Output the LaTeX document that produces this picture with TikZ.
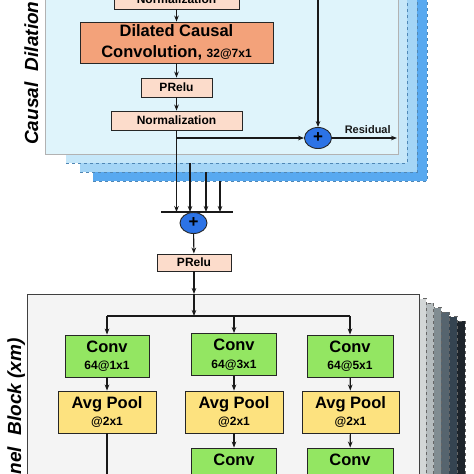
\documentclass[tikz,border=0pt]{standalone}
\usepackage{fontspec}
\setmainfont{Liberation Sans}
\usetikzlibrary{arrows,arrows.meta,shapes.geometric}
\definecolor{panelblue}{HTML}{DFF4FB}
\definecolor{layerA}{HTML}{C6E7F9}
\definecolor{layerB}{HTML}{A4D5F6}
\definecolor{layerC}{HTML}{58A9F0}
\definecolor{layerline}{HTML}{4F87B5}
\definecolor{normpink}{HTML}{FCDCCB}
\definecolor{dilorange}{HTML}{F3A27A}
\definecolor{plusblue}{HTML}{2C73E6}
\definecolor{convgreen}{HTML}{93E662}
\definecolor{poolyellow}{HTML}{FDE27F}
\definecolor{panelgray}{HTML}{F4F4F4}
\definecolor{grayA}{HTML}{D3D7D7}
\definecolor{grayB}{HTML}{B5BCBE}
\definecolor{grayC}{HTML}{808C91}
\definecolor{grayD}{HTML}{56646E}
\definecolor{grayE}{HTML}{354451}
\definecolor{grayF}{HTML}{1D242B}
\tikzset{>={Stealth[length=6pt,width=4.6pt]},
	box/.style={draw=black!85, line width=0.9pt, inner sep=0pt, align=center},
	normbox/.style={box, fill=normpink, minimum height=19pt,
		font=\bfseries\fontsize{12}{14}\selectfont},
	convbox/.style={box, fill=convgreen, minimum width=85pt, minimum height=42pt,
		font=\bfseries\fontsize{16.5}{17.5}\selectfont},
	poolbox/.style={box, fill=poolyellow, minimum width=98pt, minimum height=42pt,
		font=\bfseries\fontsize{16.5}{17}\selectfont},
	summ/.style={ellipse, draw=black!85, fill=plusblue, line width=0.9pt,
		minimum width=27pt, minimum height=21pt, inner sep=0pt,
		font=\bfseries\fontsize{17}{17}\selectfont},
	flow/.style={->, line width=1.1pt, black!90},
	plain/.style={line width=1.1pt, black!90}}
\tikzstyle{sidelabel}=[rotate=90, inner sep=0pt,
font=\bfseries\itshape\fontsize{19}{19}\selectfont]
\newcommand{\spec}[1]{{\fontsize{12}{14}\selectfont #1}}

\begin{document}
\begin{tikzpicture}[x=1pt, y=-1pt]
	\useasboundingbox (0,0) rectangle (474,474);
	\clip (0,0) rectangle (474,474);
	\fill[white] (0,0) rectangle (474,474);
	% stacked dilation blocks
	\fill[layerC] (93,-20) rectangle (427,181);
	\draw[layerline, dashed, line width=0.7pt] (93,181) -- (427,181) -- (427,-20);
	\fill[layerB] (80,-20) rectangle (417,172);
	\draw[layerline, dashed, line width=0.7pt] (80,172) -- (417,172) -- (417,-20);
	\fill[layerA] (66,-20) rectangle (407,163);
	\draw[layerline, dashed, line width=0.7pt] (66,163) -- (407,163) -- (407,-20);
	\draw[fill=panelblue, draw=black!30, line width=0.6pt] (45,-20) rectangle (398,154);
	\node[sidelabel, anchor=base west] (dillabel) at (38,145) {Causal\hspace{0.6em}Dilation};
	% dilation block
	\node[normbox, minimum width=125pt] (norm1) at (176.5,-0.5) {Normalization};
	\node[box, fill=dilorange, minimum width=193pt, minimum height=41pt,
	font=\bfseries\fontsize{16.5}{21}\selectfont] (dcc) at (176.5,42.5)
	{Dilated Causal\\Convolution, \spec{32@7x1}};
	\node[normbox, minimum width=71pt] (prelu1) at (176.5,87.5) {PRelu};
	\node[normbox, minimum width=131pt] (norm2) at (176.5,120.5) {Normalization};
	\node[summ] (plusR) at (318,138) {+};
	\coordinate (rtop) at (318,-10);
	\coordinate (resout) at (397,138);
	\draw[flow] (norm1) -- (dcc);
	\draw[flow] (dcc) -- (prelu1);
	\draw[flow] (prelu1) -- (norm2);
	\draw[flow] (rtop) -- (plusR);
	\draw[flow] (norm2.south |- plusR) -- (plusR);
	\draw[flow] (plusR) -- (resout) node[pos=0.55, above=1pt,
	font=\bfseries\fontsize{11}{12}\selectfont] {Residual};
	% skip connections
	\coordinate (barL) at (161,212);
	\coordinate (barR) at (233,212);
	\coordinate (skipA) at (190,163);
	\coordinate (skipB) at (206,172);
	\coordinate (skipC) at (220,181);
	\draw[flow] (norm2) -- (norm2.south |- barL);
	\foreach \s in {skipA,skipB,skipC}
	\draw[flow] (\s) -- (\s |- barL);
	\draw[black!90, line width=2.4pt] (barL) -- (barR);
	\node[summ] (plusB) at (193.5,223) {+};
	\node[normbox, minimum width=74pt, minimum height=17pt] (prelu2) at (194,262.5) {PRelu};
	\draw[flow] (plusB) -- (prelu2);
	% stacked channel blocks
	\foreach \k/\col in {6/grayF,5/grayE,4/grayD,3/grayC,2/grayB,1/grayA}
	\draw[fill=\col, draw=black!60, dashed, line width=0.6pt]
	({27+7.8*\k},{294+4.5*\k}) rectangle ({418+7.8*\k},490);
	\draw[fill=panelgray, draw=black!75, line width=0.7pt] (27,294) rectangle (419,490);
	\node[sidelabel, anchor=base east] (chanlabel) at (21,338) {nel\hspace{0.6em}Block (xm)};
	% channel block
	\coordinate (lowtop) at (194,294);
	\coordinate (split) at (194,316);
	\draw[flow] (prelu2) -- (lowtop);
	\draw[flow] (lowtop) -- (split);
	\node[convbox, minimum width=84pt] (conv1) at (107,356) {Conv\\\spec{64@1x1}};
	\node[convbox] (conv2) at (234,354.5) {Conv\\\spec{64@3x1}};
	\node[convbox, minimum width=86pt] (conv3) at (350,356) {Conv\\\spec{64@5x1}};
	\node[poolbox] (pool1) at (107,412) {Avg Pool\\\spec{@2x1}};
	\node[poolbox] (pool2) at (234,412) {Avg Pool\\\spec{@2x1}};
	\node[poolbox, minimum width=97pt] (pool3) at (350.5,412) {Avg Pool\\\spec{@2x1}};
	\node[convbox] (conv4) at (234,469) {Conv\\\phantom{\spec{64@3x1}}};
	\node[convbox, minimum width=86pt] (conv5) at (350,469) {Conv\\\phantom{\spec{64@5x1}}};
	\coordinate (pool1out) at (107,490);
	\draw[plain] (conv1.north |- split) -- (conv3.north |- split);
	\foreach \c in {conv1,conv2,conv3}
	\draw[flow] (\c.north |- split) -- (\c.north);
	\draw[flow] (conv1) -- (pool1);
	\draw[flow] (conv2) -- (pool2);
	\draw[flow] (conv3) -- (pool3);
	\draw[flow] (pool2) -- (conv4);
	\draw[flow] (pool3) -- (conv5);
	\draw[plain] (pool1) -- (pool1out);
\end{tikzpicture}
\end{document}
